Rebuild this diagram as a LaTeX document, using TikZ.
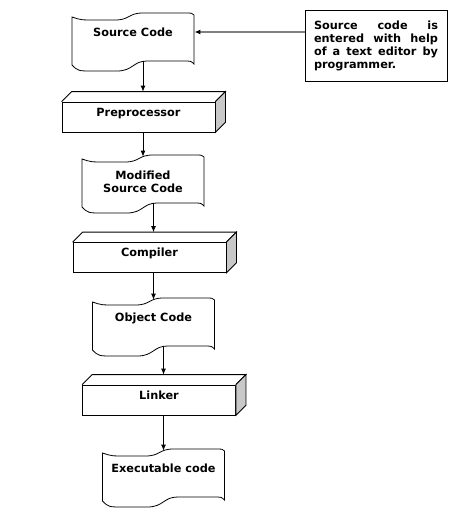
\documentclass[tikz,border=0pt]{standalone}
\usepackage{fontspec}
\setmainfont{DejaVu Sans}
\usetikzlibrary{arrows.meta,calc}
\definecolor{sidegray}{RGB}{200,200,200}
\definecolor{linegray}{RGB}{128,128,128}
\tikzset{
	doc/.style={minimum width=122pt, minimum height=52pt, inner sep=0pt, align=center, font=\bfseries\fontsize{11.3}{13.5}\selectfont},
	doctop/.style={doc, text height=8pt, text depth=16pt},
	proc/.style={draw, fill=white, minimum width=153pt, minimum height=30pt, inner sep=0pt, text height=8pt, text depth=10pt, font=\bfseries\fontsize{11.3}{13.5}\selectfont},
	flow/.style={-{Latex[length=6pt,width=5pt]}},
}
\begin{document}
\begin{tikzpicture}[x=1pt, y=-1pt, line width=0.8pt]
	\useasboundingbox (0,0) rectangle (461,515);
	
	%documents
	\node[doctop] (src) at (133, 40){Source Code};
	\node[doc] (mod) at (143, 182){Modified\\Source Code};
	\node[doctop] (obj) at (153.5, 325){Object Code};
	\node[doctop] (exe) at (163.5, 476){Executable code};
	\foreach \n in {src, mod, obj, exe}{
		\draw[shift={(\n.center)}] (-61,-23) .. controls (-52,-20) .. (-38,-20) -- (-18,-20) .. controls (-3,-20) and (-5,-27) .. (10,-27) -- (52,-27) .. controls (59,-27) .. (61,-25)
			-- (61,24) .. controls (58,21) .. (50,21) -- (14,21) .. controls (0,21) and (0,31) .. (-16,31) -- (-40,31) .. controls (-55,31) .. (-61,25) -- cycle;
	}
	
	%processes
	\node[proc] (pre) at (138.5, 117){Preprocessor};
	\node[proc] (comp) at (149.5, 257.5){Compiler};
	\node[proc] (link) at (159, 400){Linker};
	\foreach \n in {pre, comp, link}{
		\draw (\n.north west) -- ++(10,-10) -- ($(\n.north east)+(10,-10)$) -- (\n.north east);
		\draw[fill=sidegray] (\n.north east) -- ++(10,-10) -- ($(\n.south east)+(10,-10)$) -- (\n.south east) -- cycle;
	}
	
	%note
	\node[draw, minimum width=142pt, minimum height=71pt, inner sep=0pt, text width=124pt, font=\bfseries\fontsize{11.3}{13}\selectfont] (note) at (376, 45.5){%
		Source\hfill code\hfill is\\
		entered\hfill with\hfill help\\
		of\hfill a\hfill text\hfill editor\hfill by\\
		programmer.};
	\draw[linegray, line width=1.5pt, -{Latex[length=6pt,width=5pt,black]}] ([yshift=13.5pt]note.west) -- ([yshift=13.5pt]note.west -| src.east);
	
	%flow
	\draw[flow] ($(src.center -| mod)+(0,21)$) -- ($(pre.north -| mod)+(0,-10)$);
	\draw[flow] (pre.south -| mod) -- ($(mod.north)+(0,1)$);
	\draw[flow] ($(mod.center -| obj)+(0,21)$) -- ($(comp.north -| obj)+(0,-10)$);
	\draw[flow] (comp.south -| obj) -- ($(obj.north)+(0,1)$);
	\draw[flow] ($(obj.center -| exe)+(0,21)$) -- ($(link.north -| exe)+(0,-10)$);
	\draw[flow] (link.south -| exe) -- ($(exe.north)+(0,1)$);
\end{tikzpicture}
\end{document}
